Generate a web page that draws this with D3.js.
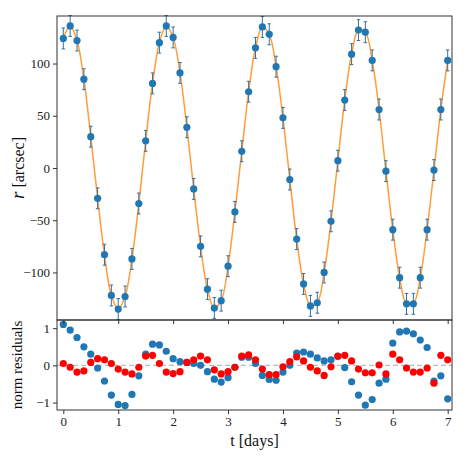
<!DOCTYPE html>
<html><head><meta charset="utf-8">
<script src="https://cdn.jsdelivr.net/npm/d3@7"></script>
<style>body{margin:0;background:#fff}svg, svg text{font-family:"Liberation Serif","DejaVu Serif",serif !important}</style>
</head><body><svg id="c" width="474" height="466"></svg>
<script>
const times = d3.range(57).map(k => k * 0.125);
const rValues = [124,136,122,85,30,-29,-83,-122,-135,-123,-87,-34,26,81,120,136,125,91,39,-20,-75,-116,-134,-127,-94,-42,
 16,73,115,135,128,97,48,-11,-68,-111,-132,-129,-100,-51,7,65,109,132,130,103,56,-3,-59,-105,-130,-130,-105,-59,-2,56,103];
const rErrors = times.map(() => 10);
const residBlue = [1.1,0.95,0.75,0.5,0.3,-0.07,-0.42,-0.8,-1.05,-1.08,-0.78,-0.28,0.3,0.57,0.55,0.38,0.18,0.1,0.08,0.05,0,-0.17,-0.37,-0.45,-0.33,-0.05,0.22,0.22,0.05,-0.27,-0.38,-0.4,-0.18,0,0.33,0.36,0.3,0.2,0.12,0.15,0.24,-0.06,-0.44,-0.8,-1.07,-0.92,-0.48,-0.37,0.6,0.9,0.92,0.85,0.68,0.48,-0.42,-0.28,-0.9];
const residRed = [0.05,-0.05,-0.18,-0.15,0.08,0.18,0.15,0.05,-0.1,-0.18,-0.23,-0.05,0.25,0.27,0.05,-0.18,-0.22,-0.17,0.08,0.15,0.25,0.15,-0.12,-0.23,-0.17,-0.05,0.25,0.28,0.15,-0.1,-0.25,-0.25,-0.04,0.1,0.23,0.12,-0.05,-0.15,-0.27,-0.04,0.25,0.27,0.12,-0.1,-0.2,-0.2,0.01,-0.23,0.3,0.15,-0.07,-0.18,-0.18,-0.07,-0.48,0.27,0.15];
const topTicks = [-100,-50,0,50,100];
const botTicks = [-1,0,1];
const xTicks = [0,1,2,3,4,5,6,7];

const svg = d3.select("#c");
const L=57,R=452,T=16,MID=320,B=410;
const x = d3.scaleLinear().domain([0,7]).range([63.3,447.7]);
const y1 = d3.scaleLinear().domain([-145.5,145.5]).range([MID,T]);
const y2 = d3.scaleLinear().domain([-1.2,1.22]).range([B,MID]);
const fmt = d => d<0 ? "\u2212"+Math.abs(d) : ""+d;
const blue="#1f77b4", orange="#ff8c1a", red="#f00";

svg.append("path").datum(times.map((t,i)=>[t,rValues[i]]))
 .attr("d", d3.line().x(d=>x(d[0])).y(d=>y1(d[1])).curve(d3.curveCatmullRom.alpha(0.5)))
 .attr("fill","none").attr("stroke",orange).attr("stroke-width",1.5).attr("opacity",0.85);
const eb = svg.append("g").attr("stroke","#3a6f9a").attr("stroke-width",1);
times.forEach((t,i)=>{
  const cx=x(t), a=y1(rValues[i]+rErrors[i]), b=y1(rValues[i]-rErrors[i]);
  eb.append("line").attr("x1",cx).attr("x2",cx).attr("y1",a).attr("y2",b);
  eb.append("line").attr("x1",cx-1.8).attr("x2",cx+1.8).attr("y1",a).attr("y2",a);
  eb.append("line").attr("x1",cx-1.8).attr("x2",cx+1.8).attr("y1",b).attr("y2",b);
});
svg.append("g").selectAll("circle").data(times).join("circle")
 .attr("cx",d=>x(d)).attr("cy",(d,i)=>y1(rValues[i])).attr("r",3.6).attr("fill",blue);

svg.append("line").attr("x1",L).attr("x2",R).attr("y1",y2(0)).attr("y2",y2(0))
 .attr("stroke","#bbb").attr("stroke-width",1.3).attr("stroke-dasharray","5,3");
svg.append("g").selectAll("circle").data(times).join("circle")
 .attr("cx",d=>x(d)).attr("cy",(d,i)=>y2(residBlue[i])).attr("r",3.6).attr("fill",blue);
svg.append("g").selectAll("circle").data(times).join("circle")
 .attr("cx",d=>x(d)).attr("cy",(d,i)=>y2(residRed[i])).attr("r",3.6).attr("fill",red);

svg.append("rect").attr("x",L).attr("y",T).attr("width",R-L).attr("height",MID-T).attr("fill","none").attr("stroke","#333").attr("stroke-width",1);
svg.append("rect").attr("x",L).attr("y",MID).attr("width",R-L).attr("height",B-MID).attr("fill","none").attr("stroke","#333").attr("stroke-width",1);

function styleAxis(g){g.attr("font-family","Liberation Serif, serif").attr("font-size",13);
 g.select(".domain").remove();g.selectAll("line").attr("stroke","#333");
 g.selectAll("text").attr("fill","#222");}
svg.append("g").attr("transform",`translate(${L},0)`)
 .call(d3.axisLeft(y1).tickValues(topTicks).tickFormat(fmt).tickSize(4).tickPadding(3)).call(styleAxis);
svg.append("g").attr("transform",`translate(${L},0)`)
 .call(d3.axisLeft(y2).tickValues(botTicks).tickFormat(fmt).tickSize(4).tickPadding(3)).call(styleAxis);
svg.append("g").attr("transform",`translate(0,${B})`)
 .call(d3.axisBottom(x).tickValues(xTicks).tickFormat(fmt).tickSize(4).tickPadding(3)).call(styleAxis);
svg.append("g").attr("transform",`translate(0,${MID})`)
 .call(d3.axisBottom(x).tickValues(xTicks).tickFormat("").tickSize(4)).call(styleAxis);

const yl = svg.append("text").attr("transform",`translate(24,${(T+MID)/2}) rotate(-90)`)
 .attr("text-anchor","middle").attr("font-size",16).attr("fill","#111");
yl.append("tspan").attr("font-style","italic").attr("font-size",19).text("r");
yl.append("tspan").text(" [arcsec]");
svg.append("text").attr("transform",`translate(22,${(MID+B)/2}) rotate(-90)`)
 .attr("text-anchor","middle").attr("font-size",15).attr("fill","#111").text("norm residuals");
svg.append("text").attr("x",(L+R)/2).attr("y",446).attr("text-anchor","middle")
 .attr("font-size",16).attr("fill","#111").text("t [days]");
</script></body></html>
